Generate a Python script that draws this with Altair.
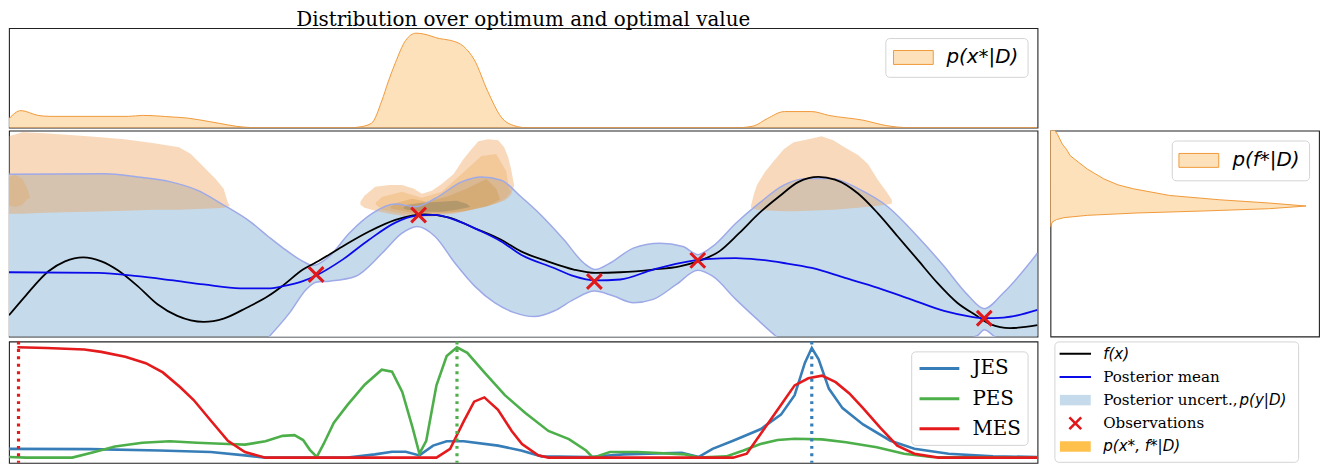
import altair as alt
import pandas as pd

TITLE = "Distribution over optimum and optimal value"

# ---------------- values ----------------
# objective f(x)   (x in [0, 10.375], f in [0, 20.74])
fx_x = [0.0, 0.165, 0.398, 0.565, 0.748, 0.932, 1.098, 1.298, 1.498, 1.698,
        1.965, 2.165, 2.398, 2.615, 2.765, 2.965, 3.098, 3.365, 3.632, 3.898,
        4.065, 4.198, 4.432, 4.698, 4.965, 5.165, 5.432, 5.698, 5.915, 6.165,
        6.498, 6.765, 6.948, 7.165, 7.365, 7.565, 7.765, 7.965, 8.165, 8.332,
        8.565, 8.765, 8.965, 9.165, 9.365, 9.565, 9.765, 9.898, 10.098, 10.375]
fx_y = [2.14, 4.07, 6.57, 7.57, 7.97, 7.57, 6.67, 5.07, 3.24, 2.07,
        1.47, 1.80, 2.90, 4.07, 5.14, 6.74, 7.47, 9.07, 10.57, 11.74,
        12.17, 12.30, 12.00, 10.90, 9.74, 8.57, 7.57, 6.74, 6.40, 6.47,
        6.74, 7.07, 7.57, 8.57, 10.40, 12.40, 14.07, 15.57, 16.07, 15.80,
        14.40, 12.40, 10.07, 7.74, 5.40, 3.40, 2.07, 1.24, 0.84, 1.14]

# posterior mean
mean_x = [0.0, 0.898, 1.298, 1.632, 1.965, 2.332, 2.615, 2.765, 2.965, 3.098,
          3.365, 3.632, 3.898, 4.098, 4.298, 4.498, 4.732, 4.965, 5.165, 5.498,
          5.698, 5.915, 6.165, 6.498, 6.765, 7.032, 7.332, 7.565, 7.815, 8.098,
          8.432, 8.765, 9.098, 9.432, 9.698, 9.832, 10.032, 10.375]
mean_y = [6.47, 6.40, 6.07, 5.67, 5.24, 4.84, 4.84, 5.07, 5.57, 6.14,
          7.74, 9.74, 11.47, 12.14, 12.24, 11.74, 10.74, 9.57, 8.24, 6.90,
          6.07, 5.64, 5.74, 6.74, 7.40, 7.80, 7.90, 7.74, 7.40, 6.90,
          5.90, 4.90, 3.74, 2.57, 2.00, 1.84, 1.90, 2.67]

# posterior uncertainty, upper edge
up_x = [0.0, 0.965, 1.298, 1.632, 1.898, 2.165, 2.432, 2.615, 2.765, 2.965,
        3.065, 3.232, 3.432, 3.665, 3.898, 4.098, 4.298, 4.565, 4.765, 4.965,
        5.165, 5.365, 5.598, 5.798, 5.915, 6.065, 6.298, 6.565, 6.798, 6.948,
        7.098, 7.332, 7.565, 7.815, 8.032, 8.298, 8.565, 8.865, 9.165, 9.432,
        9.665, 9.838, 10.032, 10.375]
up_y = [16.34, 16.40, 16.07, 15.57, 14.74, 13.24, 11.57, 10.07, 8.90, 7.57,
        7.14, 8.07, 10.40, 12.40, 13.34, 13.07, 13.90, 15.57, 16.07, 15.74,
        14.07, 12.24, 9.74, 7.40, 6.74, 7.40, 8.90, 9.40, 9.07, 8.24,
        9.07, 11.40, 13.40, 15.24, 15.90, 15.90, 14.90, 13.07, 10.07, 7.07,
        4.24, 2.80, 4.40, 8.40]

# posterior uncertainty, lower edge
lo_x = [0.0, 0.965, 1.965, 2.365, 2.632, 2.832, 2.998, 3.098, 3.232, 3.498,
        3.765, 3.965, 4.115, 4.298, 4.498, 4.698, 4.898, 5.098, 5.298, 5.498,
        5.698, 5.905, 6.098, 6.298, 6.498, 6.732, 6.948, 7.098, 7.332, 7.565,
        7.732, 7.965, 8.465, 8.965, 9.465, 9.765, 9.838, 9.932, 10.375]
lo_y = [-3.4, -3.6, -4.2, -2.6, 0.07, 2.40, 4.74, 5.47, 5.57, 6.07,
        8.40, 10.40, 11.07, 10.07, 7.40, 5.07, 3.40, 2.40, 2.00, 2.57,
        3.74, 4.57, 4.07, 3.40, 3.74, 5.24, 6.67, 6.07, 3.74, 1.57,
        0.07, -1.6, -3.3, -2.1, -0.6, 0.07, 0.67, 0.07, -3.1]

# observations
obs_x = [3.098, 4.132, 5.905, 6.948, 9.838]
obs_y = [6.24, 12.24, 5.54, 7.67, 1.84]

# joint density p(x*, f*|D): contour regions (x, upper f, lower f)
blobA_x = [0.000, 0.135, 0.365, 0.795, 1.165, 1.465, 1.715, 1.835, 1.965, 2.085, 2.165, 2.205, 2.225]
blobA_top = [20.17, 20.57, 20.47, 20.17, 19.87, 19.47, 19.07, 18.37, 17.07, 15.87, 14.87, 13.57, 13.17]
blobA_bot = [12.37, 12.37, 12.47, 12.57, 12.67, 12.77, 12.77, 12.82, 12.87, 12.92, 12.97, 13.07, 13.12]

blobB_x = [3.545, 3.585, 3.695, 3.835, 3.965, 4.085, 4.165, 4.265, 4.365, 4.485,
           4.585, 4.665, 4.735, 4.835, 4.935, 4.995, 5.035, 5.065, 5.085, 5.095]
blobB_top = [13.57, 14.17, 15.07, 15.27, 15.27, 14.87, 14.37, 14.67, 15.37, 16.37,
             17.87, 18.87, 19.67, 19.87, 19.77, 19.07, 18.07, 16.87, 15.77, 15.27]
blobB_bot = [13.27, 12.97, 12.67, 12.37, 12.17, 12.07, 12.07, 12.07, 12.27, 12.37,
             12.57, 12.77, 12.97, 13.17, 13.47, 13.67, 13.97, 14.27, 14.87, 15.17]

blobC_x = [7.485, 7.515, 7.545, 7.625, 7.715, 7.815, 7.915, 8.065, 8.195, 8.315,
           8.445, 8.565, 8.665, 8.765, 8.845, 8.905]
blobC_top = [13.17, 14.37, 15.27, 16.57, 17.67, 18.87, 19.57, 19.87, 20.17, 19.77,
             18.97, 18.27, 17.37, 15.77, 14.67, 13.77]
blobC_bot = [12.97, 12.87, 12.77, 12.72, 12.67, 12.62, 12.62, 12.67, 12.72, 12.77,
             12.87, 12.97, 13.07, 13.17, 13.27, 13.37]

A2_x = [0.0, 0.065, 0.135, 0.185, 0.21]
A2_top = [16.07, 16.27, 15.87, 14.87, 14.0]
A2_bot = [13.17, 13.07, 13.27, 13.87, 13.9]

B2_x = [3.70, 3.765, 3.965, 4.165, 4.365, 4.565, 4.765, 4.915, 5.015, 5.045, 5.06]
B2_top = [13.5, 14.07, 14.57, 13.97, 14.57, 16.37, 18.17, 18.37, 16.67, 14.87, 14.6]
B2_bot = [13.3, 12.77, 12.37, 12.27, 12.37, 12.57, 12.97, 13.37, 13.97, 14.37, 14.5]

B3_x = [3.85, 3.915, 4.065, 4.215, 4.415, 4.615, 4.815, 4.915, 4.95]
B3_top = [13.1, 13.47, 13.87, 13.57, 14.07, 14.87, 15.87, 14.87, 13.9]
B3_bot = [12.9, 12.77, 12.47, 12.47, 12.47, 12.67, 13.07, 13.57, 13.8]

B4_x = [3.98, 4.015, 4.165, 4.365, 4.515, 4.615, 4.65]
B4_top = [13.0, 13.27, 13.47, 13.57, 13.67, 13.37, 13.1]
B4_bot = [12.9, 12.77, 12.57, 12.57, 12.77, 12.97, 13.05]

# marginal p(f*|D)  (f, density)
pf_f = [20.74, 20.37, 19.37, 18.87, 18.20, 17.57, 16.87, 15.87, 15.27, 14.87, 14.20,
        13.77, 13.44, 13.14, 12.87, 12.64, 12.44, 12.20, 11.97, 11.77, 11.54, 11.07]
pf_d = [0.45, 0.70, 1.20, 1.60, 2.00, 2.80, 3.70, 5.37, 6.80, 8.37, 12.0,
        17.0, 22.0, 25.7, 22.0, 15.37, 8.70, 3.70, 1.37, 0.60, 0.20, 0.0]

# marginal p(x*|D)  (x, density)
px_x = [0.0, 0.12, 0.293, 0.414, 1.207, 1.345, 1.655, 1.794, 2.035, 2.38,
        2.465, 3.465, 3.519, 3.655, 3.76, 3.825, 3.898, 4.002, 4.105, 4.175,
        4.345, 4.45, 4.588, 4.692, 4.83, 4.965, 5.105, 5.209, 7.365, 7.511,
        7.649, 7.822, 8.098, 8.27, 8.615, 8.855, 9.064, 10.375]
px_d = [0.94, 1.77, 1.27, 1.17, 1.17, 1.27, 1.10, 1.00, 0.60, 0.04,
        0.0, 0.0, 0.04, 0.44, 2.77, 4.77, 6.77, 9.10, 9.84, 9.77,
        9.27, 9.10, 8.44, 7.10, 3.77, 1.10, 0.17, 0.0, 0.0, 0.17,
        0.94, 1.67, 1.67, 1.27, 0.77, 0.20, 0.0, 0.0]

# acquisition functions
methods = ["JES", "PES", "MES"]
jes_x = [0.0, 0.828, 1.518, 2.035, 2.38, 2.587, 3.415, 3.691, 3.864, 4.002,
         4.14, 4.278, 4.415, 4.588, 4.933, 5.165, 5.372, 5.855, 6.2, 6.787,
         6.959, 7.097, 7.304, 7.58, 7.787, 7.925, 8.029, 8.098, 8.167, 8.27,
         8.408, 8.615, 8.891, 9.133, 9.478, 9.926, 10.375]
jes_y = [0.9, 0.87, 0.73, 0.57, 0.23, 0.0, 0.0, 0.33, 0.6, 0.6,
         0.23, 1.23, 1.67, 1.67, 1.23, 0.73, 0.13, 0.07, 0.33, 0.5,
         0.07, 0.9, 1.73, 2.9, 4.4, 6.4, 9.73, 11.23, 10.07, 7.07,
         5.07, 3.4, 1.73, 0.9, 0.4, 0.13, 0.07]
pes_x = [0.0, 0.172, 0.638, 0.862, 1.069, 1.345, 1.621, 1.897, 2.208, 2.38,
         2.587, 2.76, 2.88, 2.967, 3.035, 3.105, 3.174, 3.277, 3.415, 3.588,
         3.76, 3.864, 3.967, 4.071, 4.14, 4.209, 4.312, 4.415, 4.519, 4.623,
         4.795, 5.002, 5.209, 5.441, 5.648, 5.821, 5.89, 6.062, 6.338, 6.821,
         6.959, 7.235, 7.408, 7.58, 7.753, 7.925, 8.201, 8.443, 8.753, 9.029,
         9.305, 10.375]
pes_y = [0.07, 0.0, 0.0, 0.57, 1.13, 1.53, 1.67, 1.53, 1.4, 1.33,
         1.67, 2.23, 2.3, 1.8, 0.8, 0.07, 1.4, 3.57, 5.4, 7.47,
         9.0, 8.8, 6.73, 3.07, 0.4, 1.73, 7.4, 10.4, 11.3, 10.73,
         8.73, 6.4, 4.57, 2.73, 1.9, 0.73, 0.0, 0.57, 0.57, 0.33,
         0.0, 0.13, 0.73, 1.4, 1.8, 1.93, 1.87, 1.57, 1.07, 0.4,
         0.07, 0.0]
mes_x = [0.085, 0.379, 0.759, 0.931, 1.173, 1.38, 1.552, 1.725, 1.863, 2.035,
         2.208, 2.38, 2.587, 4.312, 4.45, 4.588, 4.692, 4.795, 4.933, 5.071,
         5.175, 5.338, 5.441, 7.304, 7.442, 7.58, 7.787, 7.925, 8.063, 8.201,
         8.339, 8.477, 8.615, 8.788, 8.96, 9.133, 9.374, 10.375]
mes_y = [11.3, 11.23, 11.07, 10.83, 10.33, 9.67, 8.73, 7.23, 5.9, 3.8,
         1.73, 0.57, 0.0, 0.0, 0.9, 3.73, 5.73, 6.17, 4.9, 2.73,
         1.4, 0.23, 0.0, 0.0, 0.4, 2.4, 5.4, 7.4, 8.13, 8.4,
         7.73, 6.57, 5.07, 3.07, 1.23, 0.4, 0.0, 0.0]
argmax_method = ["MES", "PES", "JES"]
argmax_x = [0.096, 4.519, 8.098]

# legend entries of the lower-right box
leg_labels = ["f(x)", "Posterior mean", "Posterior uncert.,", "Observations", "p(x*, f*|D)"]
leg_kinds = ["f", "mean", "band", "obs", "joint"]
leg_math = [True, False, False, False, True]
leg_extra = "p(y|D)"

# ---------------- styles ----------------
W, H_TOP, H_MID, H_BOT = 1034, 100, 207, 122
W_RIGHT, W_LEG, H_LEG = 270, 245, 121
SERIF, SANS = "DejaVu Serif", "DejaVu Sans"
FRAME = "#222222"
BAND = "#c5dbec"
BAND_EDGE = "#9ea9e8"
MEAN = "#0b0bea"
OBS = "#e0181c"
PEACH_FILL = "#fde1ba"
PEACH_EDGE = "#f0993a"
JOINT = "#ffc04c"
ACQ_COLORS = ["#377eb8", "#4daf4a", "#e41a1c"]
XPATH = "M-1,-1L1,1M-1,1L1,-1"
RECT = "M-1,-0.34H1V0.34H-1Z"
PATCH = "M-2,-0.7H2V0.7H-2Z"
LONGLINE = "M-2,0H2"
LEVELS = [("#ef9a4c", 0.38), ("#e89a3c", 0.26), ("#c8892c", 0.26), ("#76765a", 0.35)]

XS = alt.Scale(domain=[0, 10.375], nice=False, zero=False)
FS = alt.Scale(domain=[0, 20.74], nice=False, zero=False)
BS = alt.Scale(domain=[-0.53, 11.9], nice=False, zero=False)
enc_x = alt.X("x:Q", scale=XS, axis=None)


def box_legend(font, style, size, sym_type, sym_sw, padding, sym_offset, label_offset, row_padding=0):
    return alt.Legend(title=None, orient="top-right", offset=10, fillColor="white",
                      strokeColor="#d4d4d4", cornerRadius=4, padding=padding,
                      symbolType=sym_type, symbolSize=400, symbolStrokeWidth=sym_sw,
                      symbolOffset=sym_offset,
                      labelFont=font, labelFontStyle=style, labelFontSize=size,
                      labelOffset=label_offset, labelColor="black", rowPadding=row_padding)


# ---------------- top: p(x*|D) ----------------
LAB_X = "p(x*|D)"
px_df = pd.DataFrame({"x": px_x, "d": px_d, "lab": LAB_X})
leg_x = box_legend(SANS, "italic", 20, PATCH, 1, 9, 8.7, 22.8)
top = alt.Chart(px_df).mark_area(clip=True, strokeWidth=1, interpolate="monotone").encode(
    x=enc_x,
    y=alt.Y("d:Q", scale=alt.Scale(domain=[0, 10.37], nice=False, zero=False), axis=None),
    fill=alt.Fill("lab:N", scale=alt.Scale(domain=[LAB_X], range=[PEACH_FILL]), legend=leg_x),
    stroke=alt.Stroke("lab:N", scale=alt.Scale(domain=[LAB_X], range=[PEACH_EDGE]), legend=leg_x),
).properties(
    width=W, height=H_TOP,
    title=alt.TitleParams(TITLE, font=SERIF, fontSize=20, fontWeight="normal",
                          anchor="middle", offset=-2, color="black"),
)

# ---------------- middle: posterior ----------------
up_df = pd.DataFrame({"x": up_x, "f": up_y})
lo_df = pd.DataFrame({"x": lo_x, "f": lo_y})
enc_f = alt.Y("f:Q", scale=FS, axis=None)

band_fill = alt.Chart(up_df).mark_area(color=BAND, clip=True, interpolate="monotone").encode(
    x=enc_x, y=enc_f, y2=alt.datum(-10))
band_mask = alt.Chart(lo_df).mark_area(color="white", clip=True, interpolate="monotone").encode(
    x=enc_x, y=enc_f, y2=alt.datum(-10))

blob_parts = [
    ("A", 0, blobA_x, blobA_top, blobA_bot),
    ("B", 0, blobB_x, blobB_top, blobB_bot),
    ("C", 0, blobC_x, blobC_top, blobC_bot),
    ("A2", 1, A2_x, A2_top, A2_bot),
    ("B2", 1, B2_x, B2_top, B2_bot),
    ("B3", 2, B3_x, B3_top, B3_bot),
    ("B4", 3, B4_x, B4_top, B4_bot),
]
blob_df = pd.concat([pd.DataFrame({"x": bx, "top": bt, "bot": bb, "part": name, "level": lv})
                     for name, lv, bx, bt, bb in blob_parts], ignore_index=True)
blob_layers = []
for lv, (col, op) in enumerate(LEVELS):
    blob_layers.append(
        alt.Chart(blob_df[blob_df["level"] == lv]).mark_area(color=col, opacity=op, clip=True).encode(
            x=enc_x, y=alt.Y("top:Q", scale=FS, axis=None), y2="bot:Q", detail="part:N"))

edge_up = alt.Chart(up_df).mark_line(color=BAND_EDGE, strokeWidth=1.5, clip=True,
                                     interpolate="monotone").encode(x=enc_x, y=enc_f)
edge_lo = alt.Chart(lo_df).mark_line(color=BAND_EDGE, strokeWidth=1.5, clip=True,
                                     interpolate="monotone").encode(x=enc_x, y=enc_f)
f_line = alt.Chart(pd.DataFrame({"x": fx_x, "f": fx_y})).mark_line(
    color="black", strokeWidth=1.8, interpolate="monotone", clip=True).encode(x=enc_x, y=enc_f)
mean_line = alt.Chart(pd.DataFrame({"x": mean_x, "f": mean_y})).mark_line(
    color=MEAN, strokeWidth=1.8, interpolate="monotone", clip=True).encode(x=enc_x, y=enc_f)
obs_pts = alt.Chart(pd.DataFrame({"x": obs_x, "f": obs_y})).mark_point(
    shape=XPATH, size=220, strokeWidth=3, color=OBS, filled=False, opacity=1).encode(x=enc_x, y=enc_f)

middle = alt.layer(band_fill, band_mask, *blob_layers, edge_up, edge_lo, f_line, mean_line,
                   obs_pts).properties(width=W, height=H_MID)

# ---------------- right: p(f*|D) ----------------
LAB_F = "p(f*|D)"
pf_df = pd.DataFrame({"f": pf_f, "d": pf_d, "lab": LAB_F})
leg_f = box_legend(SANS, "italic", 20, PATCH, 1, 9.5, 7.2, 23.3)
right = alt.Chart(pf_df).mark_area(orient="horizontal", clip=True, strokeWidth=1).encode(
    y=enc_f,
    x=alt.X("d:Q", scale=alt.Scale(domain=[0, 27], nice=False, zero=False), axis=None),
    fill=alt.Fill("lab:N", scale=alt.Scale(domain=[LAB_F], range=[PEACH_FILL]), legend=leg_f),
    stroke=alt.Stroke("lab:N", scale=alt.Scale(domain=[LAB_F], range=[PEACH_EDGE]), legend=leg_f),
).properties(width=W_RIGHT, height=H_MID)

# ---------------- bottom: acquisition functions ----------------
acq_df = pd.concat([
    pd.DataFrame({"x": jes_x, "v": jes_y, "method": "JES"}),
    pd.DataFrame({"x": pes_x, "v": pes_y, "method": "PES"}),
    pd.DataFrame({"x": mes_x, "v": mes_y, "method": "MES"}),
], ignore_index=True)
leg_acq = box_legend(SERIF, "normal", 20, LONGLINE, 3, 5.7, 11.2, 21.7, 8.3)
acq_lines = alt.Chart(acq_df).mark_line(strokeWidth=2.6, clip=True).encode(
    x=enc_x, y=alt.Y("v:Q", scale=BS, axis=None),
    color=alt.Color("method:N", scale=alt.Scale(domain=methods, range=ACQ_COLORS),
                    legend=leg_acq, sort=methods),
)
argmax_rules = alt.Chart(pd.DataFrame({"x": argmax_x, "method": argmax_method})).mark_rule(
    strokeWidth=3.2, strokeDash=[3, 4.5]).encode(
    x=enc_x,
    stroke=alt.Stroke("method:N", scale=alt.Scale(domain=methods, range=ACQ_COLORS), legend=None),
)
bottom = alt.layer(acq_lines, argmax_rules).properties(width=W, height=H_BOT)

# ---------------- lower-right legend box ----------------
SYM = {
    "f": dict(shape="stroke", fillc="black", strokec="black", sz=1000, sw=2),
    "mean": dict(shape="stroke", fillc=MEAN, strokec=MEAN, sz=1000, sw=2),
    "band": dict(shape=RECT, fillc=BAND, strokec=BAND, sz=961, sw=0),
    "obs": dict(shape=XPATH, fillc=OBS, strokec=OBS, sz=140, sw=2.6),
    "joint": dict(shape=RECT, fillc=JOINT, strokec=JOINT, sz=961, sw=0),
}
leg_df = pd.DataFrame({"i": list(range(len(leg_labels))), "label": leg_labels,
                       "kind": leg_kinds, "math": leg_math})
for key in ["shape", "fillc", "strokec", "sz", "sw"]:
    leg_df[key] = [SYM[k][key] for k in leg_df["kind"]]
LY = alt.Scale(domain=[-0.53, 4.66], reverse=True, nice=False, zero=False)
enc_i = alt.Y("i:Q", scale=LY, axis=None)

leg_sym = alt.Chart(leg_df).mark_point(filled=True, opacity=1).encode(
    x=alt.value(21), y=enc_i,
    shape=alt.Shape("shape:N", scale=None),
    fill=alt.Fill("fillc:N", scale=None),
    stroke=alt.Stroke("strokec:N", scale=None),
    size=alt.Size("sz:Q", scale=None),
    strokeWidth=alt.StrokeWidth("sw:Q", scale=None),
)
leg_txt = alt.Chart(leg_df[~leg_df["math"]]).mark_text(
    align="left", baseline="middle", font=SERIF, fontSize=15.2, color="black").encode(
    x=alt.value(49), y=enc_i, text="label:N")
leg_math_txt = alt.Chart(leg_df[leg_df["math"]]).mark_text(
    align="left", baseline="middle", font=SANS, fontStyle="italic", fontSize=15.2, color="black").encode(
    x=alt.value(49), y=enc_i, text="label:N")
leg_extra_txt = alt.Chart(pd.DataFrame({"i": [2], "label": [leg_extra]})).mark_text(
    align="left", baseline="middle", font=SANS, fontStyle="italic", fontSize=15.2, color="black").encode(
    x=alt.value(186), y=enc_i, text="label:N")
legpanel = alt.layer(leg_sym, leg_txt, leg_math_txt, leg_extra_txt).properties(
    width=W_LEG, height=H_LEG,
    view=alt.ViewBackground(stroke="#d4d4d4", strokeWidth=1, cornerRadius=4, fill="white"))

# ---------------- assemble ----------------
RES = dict(color="independent", fill="independent", stroke="independent", shape="independent")
mid_row = alt.hconcat(middle, right, spacing=11).resolve_scale(**RES)
bot_row = alt.hconcat(bottom, legpanel, spacing=15).resolve_scale(**RES)
chart = alt.vconcat(top, mid_row, bot_row, spacing=1).resolve_scale(**RES).properties(
    padding=0, background="white"
).configure_view(stroke=FRAME, strokeWidth=1.1)

chart.save("out.html", embed_options={"renderer": "svg", "actions": False})
